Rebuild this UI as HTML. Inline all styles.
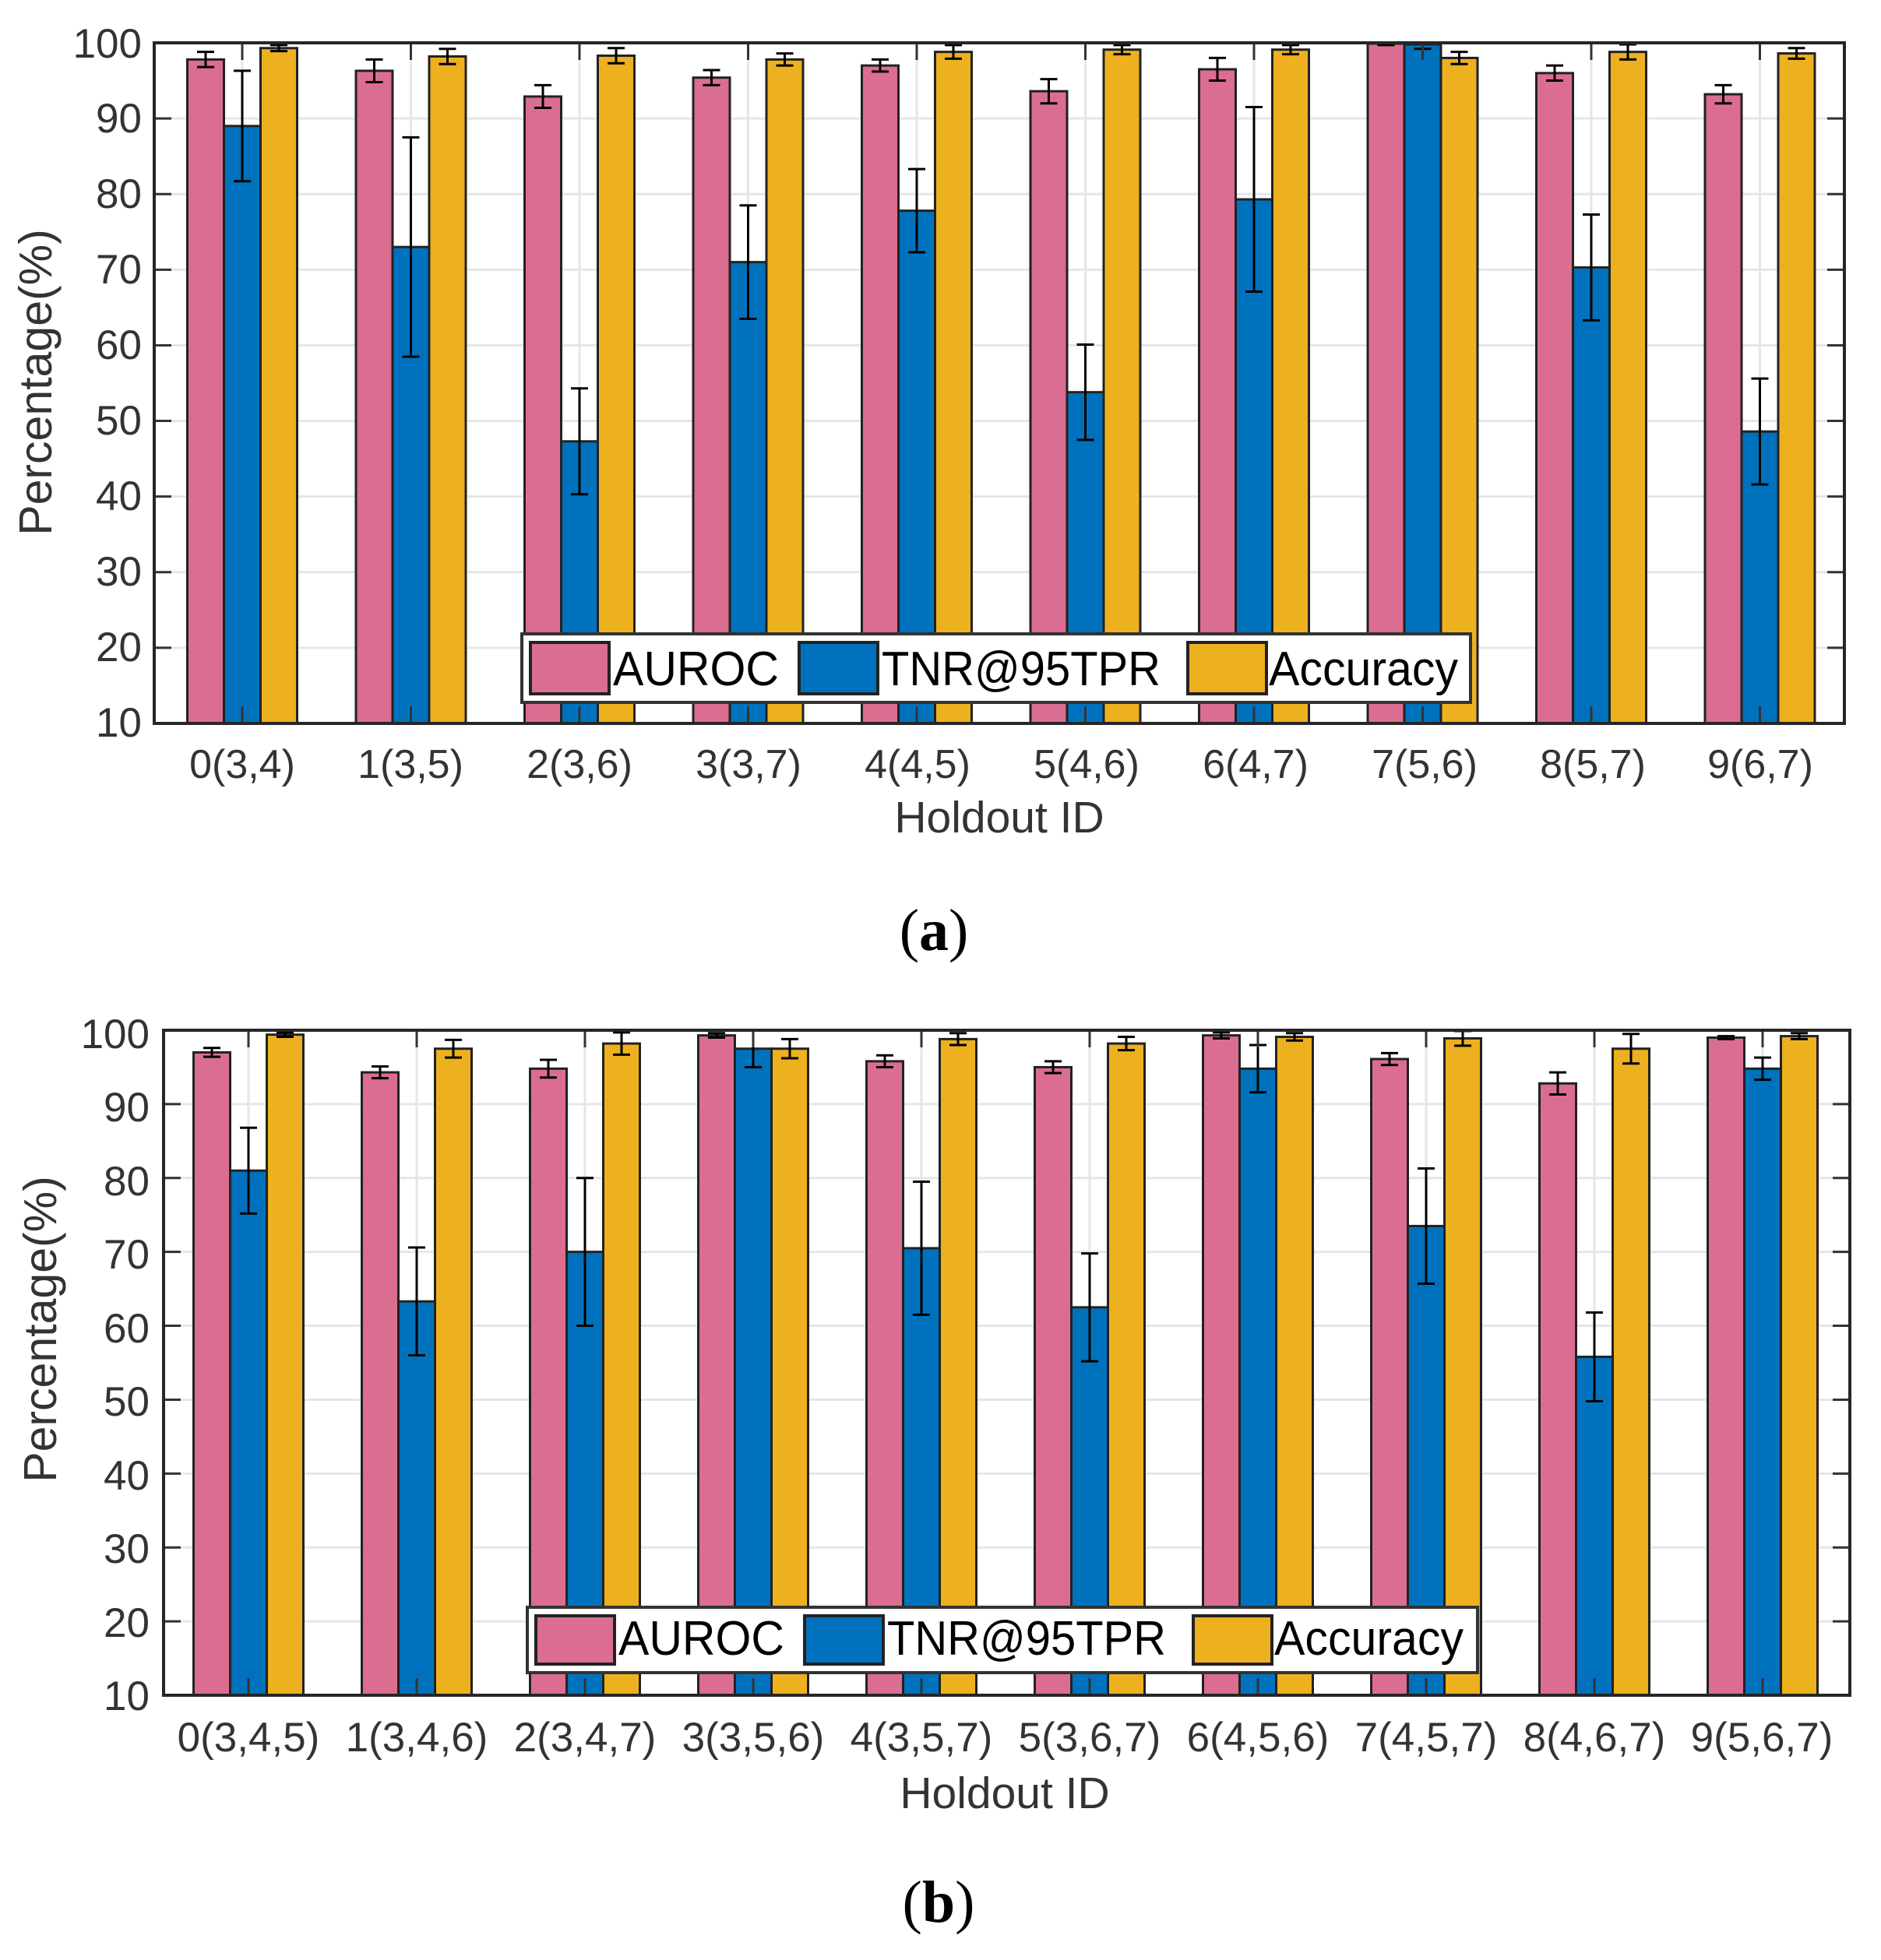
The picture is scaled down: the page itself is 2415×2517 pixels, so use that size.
<!DOCTYPE html>
<html><head><meta charset="utf-8"><style>
html,body{margin:0;padding:0;background:#fff;}
svg{display:block;}
text{font-family:"Liberation Sans",Arial,sans-serif;}
</style></head><body>
<svg id="s" width="2415" height="2517" viewBox="0 0 2415 2517" xmlns="http://www.w3.org/2000/svg">
<rect width="2415" height="2517" fill="#fff"/>
<g id="ga"></g>
<g id="gb"></g>
<g fill="#333" font-size="53" text-anchor="end">
<text x="182" y="74">100</text><text x="182" y="170">90</text><text x="182" y="267">80</text><text x="182" y="364">70</text><text x="182" y="461">60</text><text x="182" y="558">50</text><text x="182" y="655">40</text><text x="182" y="752">30</text><text x="182" y="849">20</text><text x="182" y="946">10</text>
</g>
<g fill="#333" font-size="52" text-anchor="middle">
<text x="311" y="999">0(3,4)</text><text x="527" y="999">1(3,5)</text><text x="744" y="999">2(3,6)</text><text x="961" y="999">3(3,7)</text><text x="1178" y="999">4(4,5)</text><text x="1395" y="999">5(4,6)</text><text x="1612" y="999">6(4,7)</text><text x="1829" y="999">7(5,6)</text><text x="2045" y="999">8(5,7)</text><text x="2260" y="999">9(6,7)</text>
<text x="1283" y="1069" font-size="57">Holdout ID</text>
<text x="46" y="491" font-size="59" transform="rotate(-90 46 491)" dy="20">Percentage(%)</text>
</g>
<text x="1199" y="1220" style="font-family:'Liberation Serif',serif" font-size="76" text-anchor="middle" fill="#000">(<tspan font-weight="bold">a</tspan>)</text>
<g fill="#333" font-size="53" text-anchor="end">
<text x="192" y="1346">100</text><text x="192" y="1440">90</text><text x="192" y="1535">80</text><text x="192" y="1629">70</text><text x="192" y="1724">60</text><text x="192" y="1818">50</text><text x="192" y="1913">40</text><text x="192" y="2007">30</text><text x="192" y="2102">20</text><text x="192" y="2196">10</text>
</g>
<g fill="#333" font-size="53" text-anchor="middle">
<text x="319" y="2249">0(3,4,5)</text><text x="535" y="2249">1(3,4,6)</text><text x="751" y="2249">2(3,4,7)</text><text x="967" y="2249">3(3,5,6)</text><text x="1183" y="2249">4(3,5,7)</text><text x="1399" y="2249">5(3,6,7)</text><text x="1615" y="2249">6(4,5,6)</text><text x="1831" y="2249">7(4,5,7)</text><text x="2047" y="2249">8(4,6,7)</text><text x="2262" y="2249">9(5,6,7)</text>
<text x="1290" y="2322" font-size="57">Holdout ID</text>
<text x="52" y="1707" font-size="59" transform="rotate(-90 52 1707)" dy="20">Percentage(%)</text>
</g>
<text x="1205" y="2468" style="font-family:'Liberation Serif',serif" font-size="76" text-anchor="middle" fill="#000">(<tspan font-weight="bold">b</tspan>)</text>
</svg>
<script>
var NS="http://www.w3.org/2000/svg";
function el(p,t,a){var e=document.createElementNS(NS,t);for(var k in a)e.setAttribute(k,a[k]);p.appendChild(e);return e;}
var cols=["#DB6E90","#0072BD","#EDB120"];
function chart(gid,L,R,T,B,c0,sp,data,leg){
  var g=document.getElementById(gid);
  var ys=function(v){return B-(v-10)/90*(B-T);};
  el(g,"rect",{x:L,y:T,width:R-L,height:B-T,fill:"#fff"});
  for(var v=20;v<100;v+=10)el(g,"line",{x1:L,x2:R,y1:ys(v),y2:ys(v),stroke:"#e6e6e6","stroke-width":3});
  for(var i=0;i<10;i++){var cx=c0+sp*i;el(g,"line",{x1:cx,x2:cx,y1:T,y2:B,stroke:"#e6e6e6","stroke-width":3});}
  var bw=47;
  for(var i=0;i<10;i++){var cx=c0+sp*i;
    for(var j=0;j<3;j++){var d=data[i][j];var x=cx+(j-1)*bw-bw/2;
      var y=ys(Math.min(d[0],100));
      el(g,"rect",{x:x,y:y,width:bw,height:B-y,fill:cols[j],stroke:"#222","stroke-width":3});
    }
    for(var j=0;j<3;j++){var d=data[i][j];var x=cx+(j-1)*bw;
      var y1=ys(Math.min(d[0]+d[1],100)),y2=ys(d[0]-d[1]);
      el(g,"line",{x1:x,x2:x,y1:y1,y2:y2,stroke:"#000","stroke-width":3});
      el(g,"line",{x1:x-11,x2:x+11,y1:y1,y2:y1,stroke:"#000","stroke-width":3});
      el(g,"line",{x1:x-11,x2:x+11,y1:y2,y2:y2,stroke:"#000","stroke-width":3});
    }
  }
  for(var v=10;v<=100;v+=10){el(g,"line",{x1:L,x2:L+22,y1:ys(v),y2:ys(v),stroke:"#333","stroke-width":3});el(g,"line",{x1:R,x2:R-22,y1:ys(v),y2:ys(v),stroke:"#333","stroke-width":3});}
  for(var i=0;i<10;i++){var cx=c0+sp*i;el(g,"line",{x1:cx,x2:cx,y1:B,y2:B-22,stroke:"#333","stroke-width":3});el(g,"line",{x1:cx,x2:cx,y1:T,y2:T+22,stroke:"#333","stroke-width":3});}
  el(g,"rect",{x:L,y:T,width:R-L,height:B-T,fill:"none",stroke:"#262626","stroke-width":4});
  var lx=leg[0],ly=leg[1],lw=leg[2],lh=leg[3];
  el(g,"rect",{x:lx,y:ly,width:lw,height:lh,fill:"#fff",stroke:"#333","stroke-width":4});
  var offs=[11,356,855];
  for(var j=0;j<3;j++){
    el(g,"rect",{x:lx+offs[j],y:ly+11,width:101,height:lh-22,fill:cols[j],stroke:"#222","stroke-width":4});
  }
}
var A=[[[97.8,1],[89,7.3],[99.3,0.4]],[[96.3,1.5],[73,14.5],[98.2,1]],[[92.9,1.5],[47.3,7],[98.3,1]],[[95.4,1],[71,7.5],[97.8,0.8]],[[97,0.8],[77.8,5.5],[98.8,0.9]],[[93.6,1.6],[53.8,6.3],[99.1,0.6]],[[96.5,1.5],[79.3,12.2],[99.1,0.6]],[[99.9,0.2],[99.8,0.6],[98,0.8]],[[96,1],[70.3,7],[98.8,1]],[[93.2,1.2],[48.6,7],[98.6,0.7]]];
var Bd=[[[97,0.6],[81,5.8],[99.4,0.3]],[[94.3,0.8],[63.3,7.3],[97.5,1.2]],[[94.8,1.2],[70,10],[98.2,1.5]],[[99.3,0.3],[97.5,2.5],[97.5,1.3]],[[95.8,0.8],[70.5,9],[98.8,0.8]],[[95,0.8],[62.5,7.3],[98.2,0.9]],[[99.3,0.4],[94.8,3.2],[99.1,0.5]],[[96.1,0.8],[73.5,7.8],[98.9,1]],[[92.8,1.5],[55.8,6],[97.5,2]],[[99,0.2],[94.8,1.5],[99.2,0.4]]];
chart("ga",198,2368,55,929,311,216.5,A,[670,814,1218,88]);
chart("gb",210,2375,1323,2177,319,216,Bd,[677,2064,1220,84]);
</script>
<svg style="position:absolute;left:0;top:0" width="2415" height="2517" xmlns="http://www.w3.org/2000/svg">
<g font-size="62" fill="#000">
<text x="787" y="880" textLength="213" lengthAdjust="spacingAndGlyphs">AUROC</text><text x="1132" y="880" textLength="358" lengthAdjust="spacingAndGlyphs">TNR@95TPR</text><text x="1629" y="880" textLength="243" lengthAdjust="spacingAndGlyphs">Accuracy</text>
<text x="794" y="2125" textLength="213" lengthAdjust="spacingAndGlyphs">AUROC</text><text x="1139" y="2125" textLength="358" lengthAdjust="spacingAndGlyphs">TNR@95TPR</text><text x="1636" y="2125" textLength="243" lengthAdjust="spacingAndGlyphs">Accuracy</text>
</g>
</svg>
</body></html>
